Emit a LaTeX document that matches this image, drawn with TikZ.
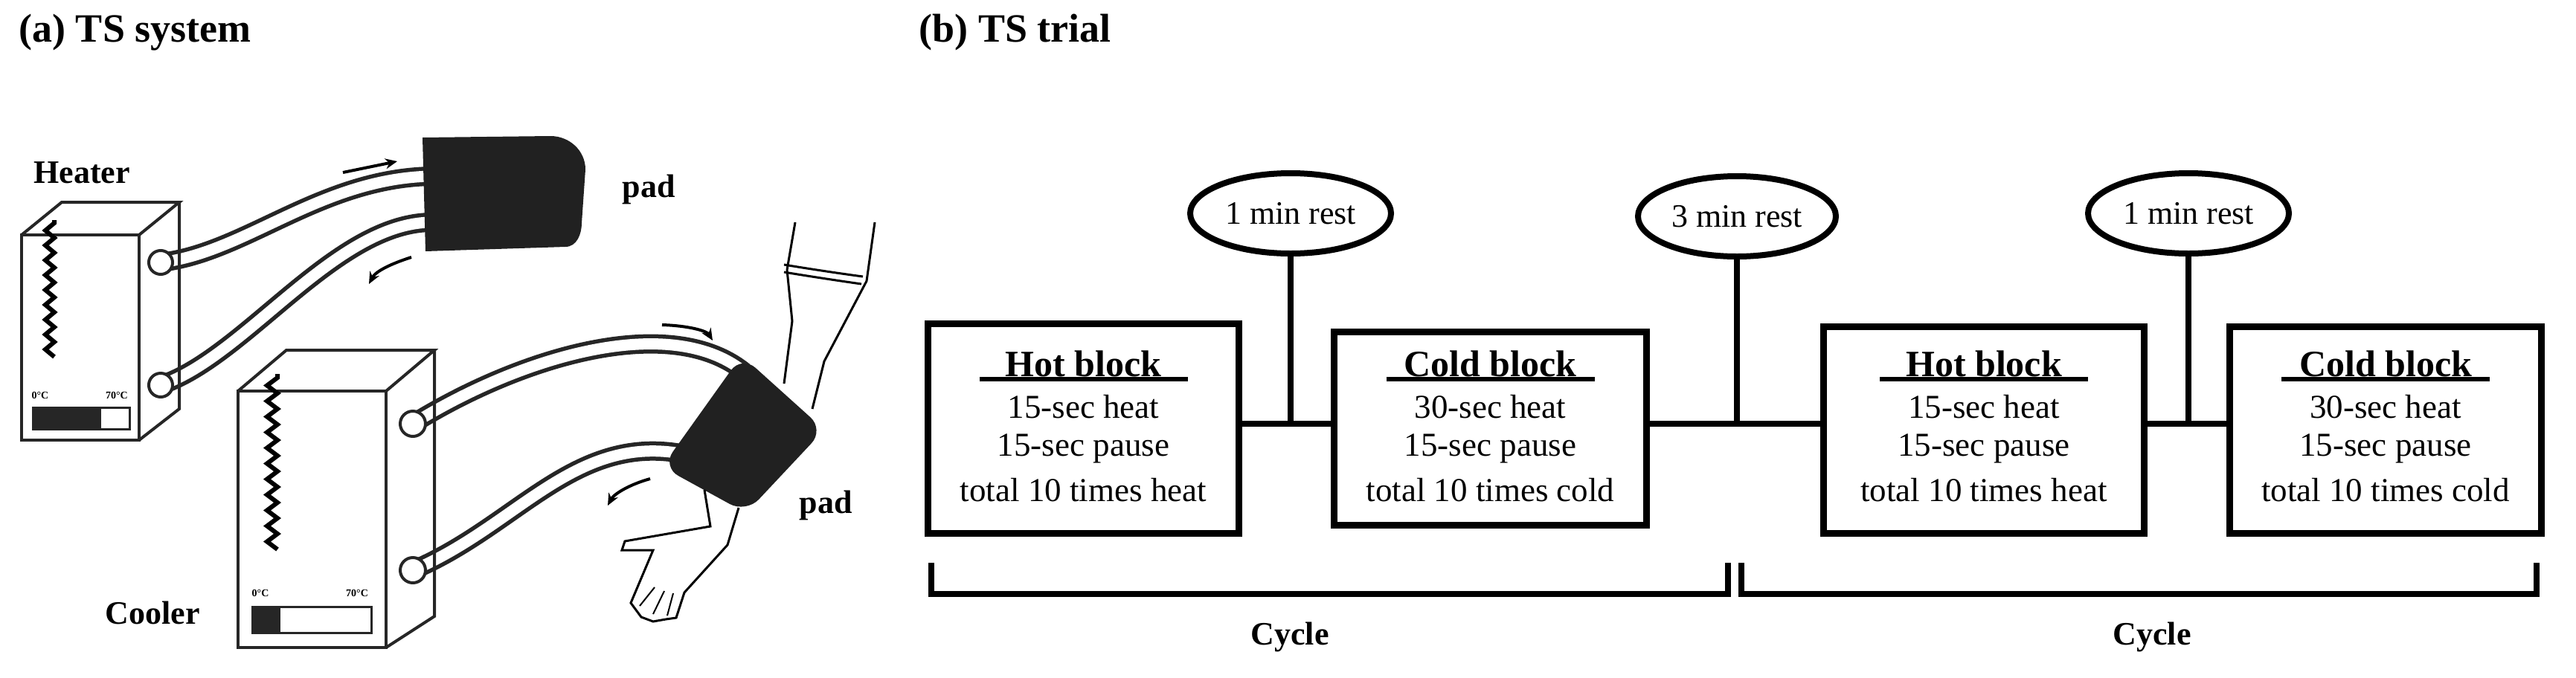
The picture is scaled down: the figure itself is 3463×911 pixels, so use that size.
\documentclass[tikz,border=0pt]{standalone}
\usepackage{fontspec}
\setmainfont{Liberation Serif}
\usetikzlibrary{arrows.meta,shapes.geometric}
\begin{document}
\begin{tikzpicture}[x=1pt,y=-1pt,
  blk/.style={draw,line width=9pt},
  body/.style={font=\fontsize{45}{56}\selectfont},
  ttl/.style={font=\bfseries\fontsize{50}{56}\selectfont},
  rest/.style={draw,ellipse,line width=8pt,minimum width=270pt,minimum height=108pt,inner sep=0pt,font=\fontsize{44}{50}\selectfont},
  tubeo/.style={line width=26pt,color=black!85},
  tubei/.style={line width=15pt,color=white},
  dev/.style={draw,line width=4pt,color=black!85},
  arr/.style={line width=4pt,-{Stealth[length=16pt,width=14pt]}}
]
\useasboundingbox (0,0) rectangle (3463,911);
\node[anchor=west,font=\bfseries\fontsize{54}{60}\selectfont] (la) at (22,44) {(a) TS system};
\node[anchor=west,font=\bfseries\fontsize{54}{60}\selectfont] (lb) at (1232,44) {(b) TS trial};

% ---------- (a) drawing ----------
\node[font=\bfseries\fontsize{44}{50}\selectfont] (heater) at (110,232) {Heater};
\node[font=\bfseries\fontsize{44}{50}\selectfont] (cooler) at (205,824) {Cooler};
\node[font=\bfseries\fontsize{44}{50}\selectfont] (pada) at (872,255) {pad};
\node[font=\bfseries\fontsize{44}{50}\selectfont] (padb) at (1110,680) {pad};

% tubes heater
\draw[tubeo] (216,353) .. controls (330,340) and (430,240) .. (580,237);
\draw[tubei] (216,353) .. controls (330,340) and (430,240) .. (580,237);
\draw[tubeo] (216,518) .. controls (330,480) and (450,300) .. (580,299);
\draw[tubei] (216,518) .. controls (330,480) and (450,300) .. (580,299);
% tubes cooler
\draw[tubeo] (555,570) .. controls (700,480) and (900,420) .. (1000,500);
\draw[tubei] (555,570) .. controls (700,480) and (900,420) .. (1000,500);
\draw[tubeo] (555,767) .. controls (694,708) and (771,585) .. (915,610);
\draw[tubei] (555,767) .. controls (694,708) and (771,585) .. (915,610);

% heater box
\draw[dev,fill=white] (29,316) rectangle (187,592);
\draw[dev] (29,316) -- (83,272) -- (241,272) -- (187,316);
\draw[dev] (241,272) -- (241,550) -- (187,592);
\draw[line width=6pt] (73,296) -- (73,300)
  \foreach \i in {0,...,8} { -- ++(-12,10) -- ++(12,10) };
\draw[dev,line width=3pt] (44,548) rectangle (174,577);
\fill[black!85] (44,548) rectangle (136,577);
\node[font=\bfseries\fontsize{14}{16}\selectfont] at (54,532) {0°C};
\node[font=\bfseries\fontsize{14}{16}\selectfont] at (157,532) {70°C};
\draw[dev,fill=white] (216,353) circle (16);
\draw[dev,fill=white] (216,518) circle (16);

% cooler box
\draw[dev,fill=white] (320,526) rectangle (519,871);
\draw[dev] (320,526) -- (385,471) -- (584,471) -- (519,526);
\draw[dev] (584,471) -- (584,829) -- (519,871);
\draw[line width=6pt] (373,503) -- (373,508)
  \foreach \i in {0,...,10} { -- ++(-14,10.5) -- ++(14,10.5) };
\draw[dev,line width=3pt] (339,816) rectangle (499,851);
\fill[black!85] (339,816) rectangle (377,851);
\node[font=\bfseries\fontsize{14}{16}\selectfont] at (350,798) {0°C};
\node[font=\bfseries\fontsize{14}{16}\selectfont] at (480,798) {70°C};
\draw[dev,fill=white] (555,570) circle (17);
\draw[dev,fill=white] (555,767) circle (17);

% pad 1
\fill[black!87] (568,185) -- (740,183) to[out=0,in=90] (787,228) -- (782,300) to[out=-90,in=0] (760,332) -- (572,338) -- cycle;
% arm
\draw[line width=3pt] (1069,299) -- (1058,363) -- (1065,432) -- (1054,516);
\draw[line width=3pt] (1176,299) -- (1165,378) -- (1108,486) -- (1092,550);
\draw[line width=3pt] (1054,356) .. controls (1090,362) and (1130,368) .. (1160,372);
\draw[line width=3pt] (1054,366) .. controls (1090,372) and (1130,378) .. (1158,382);
% pad 2
\fill[black!87,rounded corners=25pt] (997,478) -- (1108,578) -- (1003,690) -- (890,628) -- cycle;
% hand
\draw[line width=3pt] (947,659) -- (955,708) -- (840,728) -- (836,740) -- (878,740)
  -- (848,811) -- (862,830) -- (878,836) -- (895,833) -- (909,831) -- (920,797) -- (978,733) -- (993,683);
\draw[line width=2pt] (860,815) -- (880,790) (878,826) -- (893,795) (897,828) -- (905,798);

% arrows
\draw[arr] (461,232) -- (534,217);
\draw[arr] (553,346) .. controls (525,355) and (505,365) .. (496,382);
\draw[arr] (890,437) .. controls (925,438) and (950,445) .. (958,458);
\draw[arr] (874,644) .. controls (845,652) and (825,665) .. (817,680);

% ---------- (b) trial ----------
\node[blk,minimum width=418pt,minimum height=282pt,anchor=north west] (h1) at (1243,431) {};
\node[blk,minimum width=420pt,minimum height=260pt,anchor=north west] (c1) at (1789,442) {};
\node[blk,minimum width=431pt,minimum height=278pt,anchor=north west] (h2) at (2447,435) {};
\node[blk,minimum width=419pt,minimum height=278pt,anchor=north west] (c2) at (2993,435) {};

\foreach \b/\t/\a/\c in {h1/Hot block/15/heat, c1/Cold block/30/cold, h2/Hot block/15/heat, c2/Cold block/30/cold}{
  \node[ttl] at ([yshift=-6pt]\b.center |- 0,483) {\t};
  \draw[line width=6pt] ([xshift=-140pt]\b.center |- 0,510) -- ([xshift=140pt]\b.center |- 0,510);
  \node[body] at (\b.center |- 0,547) {\a-sec heat};
  \node[body] at (\b.center |- 0,603) {15-sec pause};
  \node[body] at (\b.center |- 0,659) {total 10 times \c};
}

\node[rest] (r1) at (1735,287) {1 min rest};
\node[rest,minimum width=266pt] (r2) at (2335,291) {3 min rest};
\node[rest] (r3) at (2942,287) {1 min rest};
\draw[line width=8pt] (h1.east |- 0,570) -- (c1.west |- 0,570);
\draw[line width=8pt] (c1.east |- 0,570) -- (h2.west |- 0,570);
\draw[line width=8pt] (h2.east |- 0,570) -- (c2.west |- 0,570);
\draw[line width=8pt] (r1.south) -- (r1.south |- 0,570);
\draw[line width=8pt] (r2.south) -- (r2.south |- 0,570);
\draw[line width=8pt] (r3.south) -- (r3.south |- 0,570);

\coordinate (b1a) at (1252,757); \coordinate (b1b) at (2323,757);
\coordinate (b2a) at (2341,757); \coordinate (b2b) at (3410,757);
\draw[line width=8pt] (b1a) -- (b1a |- 0,799) -- (b1b |- 0,799) -- (b1b);
\draw[line width=8pt] (b2a) -- (b2a |- 0,799) -- (b2b |- 0,799) -- (b2b);
\node[font=\bfseries\fontsize{44}{50}\selectfont] (cy1) at (1734,857) {Cycle};
\node[font=\bfseries\fontsize{44}{50}\selectfont] (cy2) at (2893,857) {Cycle};
\end{tikzpicture}
\end{document}
